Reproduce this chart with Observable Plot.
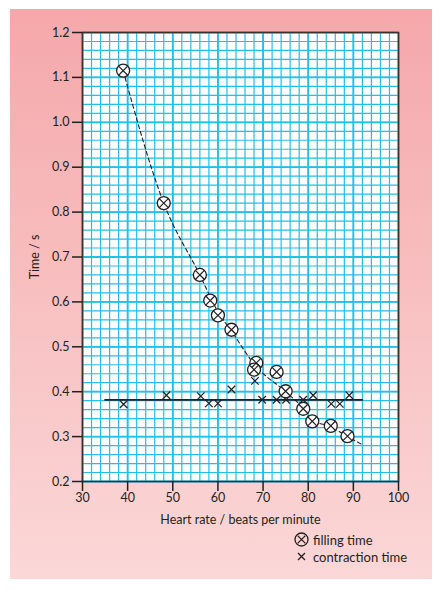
<!DOCTYPE html>
<html>
<head>
<meta charset="utf-8">
<script src="https://cdn.jsdelivr.net/npm/d3@7"></script>
<script src="https://cdn.jsdelivr.net/npm/@observablehq/plot@0.6"></script>
<style>
  body { margin: 0; background: #fff; font-family: Lato, sans-serif; }
  #panel { position: absolute; left: 10px; top: 9px; width: 422px; height: 570px;
           background: linear-gradient(#f5a8aa, #fbd7d7); }
  #chart { position: absolute; left: 0; top: 0; }
  .leg { position: absolute; left: 283px; font-size: 13px; color: #231f20; display: flex; align-items: center; }
  .leg svg { margin-right: 3px; }
</style>
</head>
<body>
<div id="panel">
  <div id="chart"></div>
  <div class="leg" style="top:522px">
    <svg width="17" height="17"><circle cx="8.5" cy="8.5" r="6.5" fill="none" stroke="#231f20" stroke-width="1.3"/><path d="M4.6 4.6L12.4 12.4M12.4 4.6L4.6 12.4" stroke="#231f20" stroke-width="1.3"/></svg>
    <span>filling time</span>
  </div>
  <div class="leg" style="top:539px">
    <svg width="17" height="17"><path d="M5 5L12 12M12 5L5 12" stroke="#231f20" stroke-width="1.3"/></svg>
    <span>contraction time</span>
  </div>
</div>
<script>
// filling time (circled crosses)
const fillRate = [39, 48, 56, 58.3, 60, 63, 68.5, 68, 73, 75, 78.9, 80.9, 85, 88.7]
const fillTime = [1.115, 0.82, 0.66, 0.603, 0.57, 0.538, 0.464, 0.449, 0.444, 0.401, 0.362, 0.334, 0.324, 0.301]

// contraction time (crosses)
const conRate = [39.1, 48.6, 56.2, 58, 60, 63, 68.2, 69.8, 73, 75.1, 78.9, 81.1, 85.1, 87, 89.1]
const conTime = [0.372, 0.392, 0.39, 0.374, 0.374, 0.405, 0.424, 0.382, 0.382, 0.382, 0.382, 0.392, 0.373, 0.373, 0.392]

// dashed curve through the filling times
const trendRate = [39, 48, 56, 60, 63, 68.3, 75, 79, 81, 85, 88.7, 92]
const trendTime = [1.115, 0.82, 0.66, 0.578, 0.535, 0.458, 0.40, 0.362, 0.337, 0.322, 0.30, 0.282]

// solid line, mean contraction time
const meanRate = [35, 92]
const meanTime = [0.382, 0.382]

const xTicks = [30, 40, 50, 60, 70, 80, 90, 100]
const yTicks = [0.2, 0.3, 0.4, 0.5, 0.6, 0.7, 0.8, 0.9, 1.0, 1.1, 1.2]

const filling = fillRate.map((x, i) => ({x, y: fillTime[i]}))
const contraction = conRate.map((x, i) => ({x, y: conTime[i]}))
const trend = trendRate.map((x, i) => ({x, y: trendTime[i]}))
const mean = meanRate.map((x, i) => ({x, y: meanTime[i]}))

const gridX = d3.range(15, 51).map(i => i * 2)
const gridY = d3.range(10, 61).map(i => i / 50)
const ink = '#231f20'
const cyan = '#22bfea'

const chart = Plot.plot({
  width: 422,
  height: 525,
  marginLeft: 72,
  marginRight: 34,
  marginTop: 23,
  marginBottom: 53,
  style: {background: 'transparent', fontFamily: 'Lato, sans-serif', fontSize: '12px', color: ink},
  x: {domain: [30, 100]},
  y: {domain: [0.2, 1.2]},
  marks: [
    Plot.frame({fill: 'white', stroke: 'none'}),
    Plot.ruleX(gridX, {stroke: cyan, strokeWidth: 1.2}),
    Plot.ruleY(gridY, {stroke: cyan, strokeWidth: 1.2}),
    Plot.ruleX(xTicks, {stroke: cyan, strokeWidth: 1.8}),
    Plot.ruleY(yTicks, {stroke: cyan, strokeWidth: 1.8}),
    Plot.frame({stroke: '#333', strokeWidth: 1.6}),
    Plot.axisX({ticks: xTicks, tickSize: 10, tickPadding: 2, strokeWidth: 1.5, fontSize: 12.5, tickFormat: d => d,
      label: null}),
    Plot.axisX({ticks: [], tickSize: 0, fontSize: 12.5,
      label: 'Heart rate / beats per minute', labelAnchor: 'center', labelArrow: 'none', labelOffset: 42}),
    Plot.axisY({ticks: yTicks, tickSize: 10, tickPadding: 3, strokeWidth: 1.5, fontSize: 12.5, tickFormat: d3.format('.1f'),
      label: null}),
    Plot.axisY({ticks: [], tickSize: 0, fontSize: 12.5,
      label: 'Time / s', labelAnchor: 'center', labelArrow: 'none', labelOffset: 52}),
    Plot.line(trend, {x: 'x', y: 'y', curve: 'monotone-x', stroke: ink, strokeWidth: 1.1, strokeDasharray: '4,3'}),
    Plot.line(mean, {x: 'x', y: 'y', stroke: ink, strokeWidth: 1.8}),
    Plot.dot(contraction, {x: 'x', y: 'y', symbol: 'times', r: 3.5, stroke: ink, strokeWidth: 1.2}),
    Plot.dot(filling, {x: 'x', y: 'y', r: 6.5, fill: 'white', stroke: ink, strokeWidth: 1.3}),
    Plot.dot(filling, {x: 'x', y: 'y', symbol: 'times', r: 4.2, stroke: ink, strokeWidth: 1.2})
  ]
})

d3.select('#chart').append(() => chart)
</script>
</body>
</html>
